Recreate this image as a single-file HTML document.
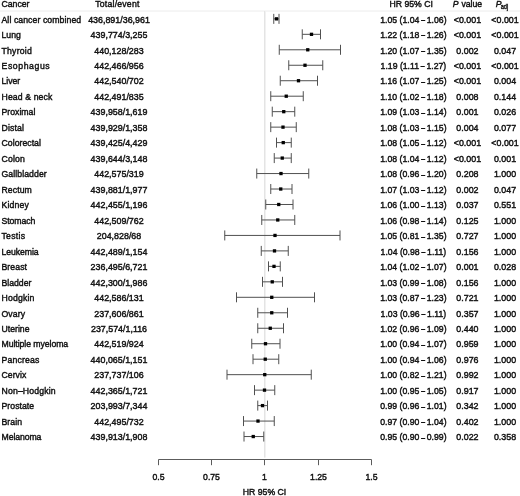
<!DOCTYPE html>
<html><head><meta charset="utf-8"><style>
html,body{margin:0;padding:0;background:#fff;}
body{width:520px;height:496px;overflow:hidden;}
svg{display:block;filter:blur(0.3px);}
text{font-family:"Liberation Sans",Arial,sans-serif;font-size:8.7px;fill:#111;stroke:#111;stroke-width:0.4px;}
.m{text-anchor:middle;}
.sub{font-size:5.7px;stroke-width:0.3px;}
</style></head><body>
<svg width="520" height="496" viewBox="0 0 520 496">
<rect width="520" height="496" fill="#fff"/>
<line x1="0" y1="11" x2="520" y2="11" stroke="#ececec" stroke-width="1"/>
<line x1="264.5" y1="11" x2="264.5" y2="457.6" stroke="#e4e4e4" stroke-width="1"/>
<line x1="265.5" y1="11" x2="265.5" y2="457.6" stroke="#f1f1f1" stroke-width="1"/>
<text transform="translate(1.50 7.40) scale(1.0 1.1)">Cancer</text>
<text transform="translate(117.30 7.40) scale(1.0 1.1)" class="m" textLength="44.2" lengthAdjust="spacing">Total/event</text>
<text transform="translate(411.20 7.40) scale(1.0 1.1)" class="m">HR 95% CI</text>
<text transform="translate(467.40 7.40) scale(1.0 1.1)" class="m"><tspan font-style="italic">P</tspan><tspan dx="0.5"> value</tspan></text>
<text transform="translate(495.80 7.40) scale(1.0 1.1)"><tspan font-style="italic">P</tspan><tspan class="sub" dx="-0.9" dy="1.4">adj</tspan></text>
<text transform="translate(1.50 22.60) scale(1.0 1.1)" textLength="79.63" lengthAdjust="spacing">All cancer combined</text>
<text transform="translate(119.00 22.60) scale(1.022 1.1)" class="m">436,891/36,961</text>
<text transform="translate(413.40 22.60) scale(1.0 1.1)" class="m">1.05 (1.04<tspan dx="1.8" dy="-0.6" font-size="6.8">–</tspan><tspan dx="1.8" dy="0.6" font-size="8.7">1.06)</tspan></text>
<text transform="translate(467.40 22.60) scale(1.022 1.1)" class="m">&lt;0.001</text>
<text transform="translate(505.00 22.60) scale(1.022 1.1)" class="m">&lt;0.001</text>
<path d="M273.75 18.85H279.00M273.75 13.85V23.85M279.00 13.85V23.85" stroke="#505050" stroke-width="1" fill="none"/>
<rect x="274.85" y="17.20" width="3.3" height="3.3" fill="#000"/>
<text transform="translate(1.50 38.07) scale(1.0 1.1)" textLength="19.43" lengthAdjust="spacing">Lung</text>
<text transform="translate(119.00 38.07) scale(1.022 1.1)" class="m">439,774/3,255</text>
<text transform="translate(413.40 38.07) scale(1.0 1.1)" class="m">1.22 (1.18<tspan dx="1.8" dy="-0.6" font-size="6.8">–</tspan><tspan dx="1.8" dy="0.6" font-size="8.7">1.26)</tspan></text>
<text transform="translate(467.40 38.07) scale(1.022 1.1)" class="m">&lt;0.001</text>
<text transform="translate(505.00 38.07) scale(1.022 1.1)" class="m">&lt;0.001</text>
<path d="M302.25 34.32H320.50M302.25 29.32V39.32M320.50 29.32V39.32" stroke="#505050" stroke-width="1" fill="none"/>
<rect x="309.85" y="32.67" width="3.3" height="3.3" fill="#000"/>
<text transform="translate(1.50 53.54) scale(1.0 1.1)" textLength="30.37" lengthAdjust="spacing">Thyroid</text>
<text transform="translate(119.00 53.54) scale(1.022 1.1)" class="m">440,128/283</text>
<text transform="translate(413.40 53.54) scale(1.0 1.1)" class="m">1.20 (1.07<tspan dx="1.8" dy="-0.6" font-size="6.8">–</tspan><tspan dx="1.8" dy="0.6" font-size="8.7">1.35)</tspan></text>
<text transform="translate(467.40 53.54) scale(1.022 1.1)" class="m">0.002</text>
<text transform="translate(505.00 53.54) scale(1.022 1.1)" class="m">0.047</text>
<path d="M279.25 49.79H340.50M279.25 44.79V54.79M340.50 44.79V54.79" stroke="#505050" stroke-width="1" fill="none"/>
<rect x="306.10" y="48.14" width="3.3" height="3.3" fill="#000"/>
<text transform="translate(1.50 69.01) scale(1.0 1.1)" textLength="48.18" lengthAdjust="spacing">Esophagus</text>
<text transform="translate(119.00 69.01) scale(1.022 1.1)" class="m">442,466/956</text>
<text transform="translate(413.40 69.01) scale(1.0 1.1)" class="m">1.19 (1.11<tspan dx="1.8" dy="-0.6" font-size="6.8">–</tspan><tspan dx="1.8" dy="0.6" font-size="8.7">1.27)</tspan></text>
<text transform="translate(467.40 69.01) scale(1.022 1.1)" class="m">&lt;0.001</text>
<text transform="translate(505.00 69.01) scale(1.022 1.1)" class="m">&lt;0.001</text>
<path d="M288.75 65.26H322.75M288.75 60.26V70.26M322.75 60.26V70.26" stroke="#505050" stroke-width="1" fill="none"/>
<rect x="303.35" y="63.61" width="3.3" height="3.3" fill="#000"/>
<text transform="translate(1.50 84.48) scale(1.0 1.1)" textLength="18.74" lengthAdjust="spacing">Liver</text>
<text transform="translate(119.00 84.48) scale(1.022 1.1)" class="m">442,540/702</text>
<text transform="translate(413.40 84.48) scale(1.0 1.1)" class="m">1.16 (1.07<tspan dx="1.8" dy="-0.6" font-size="6.8">–</tspan><tspan dx="1.8" dy="0.6" font-size="8.7">1.25)</tspan></text>
<text transform="translate(467.40 84.48) scale(1.022 1.1)" class="m">&lt;0.001</text>
<text transform="translate(505.00 84.48) scale(1.022 1.1)" class="m">0.004</text>
<path d="M280.25 80.73H317.50M280.25 75.73V85.73M317.50 75.73V85.73" stroke="#505050" stroke-width="1" fill="none"/>
<rect x="296.85" y="79.08" width="3.3" height="3.3" fill="#000"/>
<text transform="translate(1.50 99.95) scale(1.0 1.1)" textLength="50.85" lengthAdjust="spacing">Head &amp; neck</text>
<text transform="translate(119.00 99.95) scale(1.022 1.1)" class="m">442,491/835</text>
<text transform="translate(413.40 99.95) scale(1.0 1.1)" class="m">1.10 (1.02<tspan dx="1.8" dy="-0.6" font-size="6.8">–</tspan><tspan dx="1.8" dy="0.6" font-size="8.7">1.18)</tspan></text>
<text transform="translate(467.40 99.95) scale(1.022 1.1)" class="m">0.008</text>
<text transform="translate(505.00 99.95) scale(1.022 1.1)" class="m">0.144</text>
<path d="M270.75 96.20H303.25M270.75 91.20V101.20M303.25 91.20V101.20" stroke="#505050" stroke-width="1" fill="none"/>
<rect x="284.60" y="94.55" width="3.3" height="3.3" fill="#000"/>
<text transform="translate(1.50 115.42) scale(1.0 1.1)" textLength="33.90" lengthAdjust="spacing">Proximal</text>
<text transform="translate(119.00 115.42) scale(1.022 1.1)" class="m">439,958/1,619</text>
<text transform="translate(413.40 115.42) scale(1.0 1.1)" class="m">1.09 (1.03<tspan dx="1.8" dy="-0.6" font-size="6.8">–</tspan><tspan dx="1.8" dy="0.6" font-size="8.7">1.14)</tspan></text>
<text transform="translate(467.40 115.42) scale(1.022 1.1)" class="m">0.001</text>
<text transform="translate(505.00 115.42) scale(1.022 1.1)" class="m">0.026</text>
<path d="M272.25 111.67H294.75M272.25 106.67V116.67M294.75 106.67V116.67" stroke="#505050" stroke-width="1" fill="none"/>
<rect x="282.10" y="110.02" width="3.3" height="3.3" fill="#000"/>
<text transform="translate(1.50 130.89) scale(1.0 1.1)" textLength="22.53" lengthAdjust="spacing">Distal</text>
<text transform="translate(119.00 130.89) scale(1.022 1.1)" class="m">439,929/1,358</text>
<text transform="translate(413.40 130.89) scale(1.0 1.1)" class="m">1.08 (1.03<tspan dx="1.8" dy="-0.6" font-size="6.8">–</tspan><tspan dx="1.8" dy="0.6" font-size="8.7">1.15)</tspan></text>
<text transform="translate(467.40 130.89) scale(1.022 1.1)" class="m">0.004</text>
<text transform="translate(505.00 130.89) scale(1.022 1.1)" class="m">0.077</text>
<path d="M270.75 127.14H296.25M270.75 122.14V132.14M296.25 122.14V132.14" stroke="#505050" stroke-width="1" fill="none"/>
<rect x="281.35" y="125.49" width="3.3" height="3.3" fill="#000"/>
<text transform="translate(1.50 146.36) scale(1.0 1.1)" textLength="39.42" lengthAdjust="spacing">Colorectal</text>
<text transform="translate(119.00 146.36) scale(1.022 1.1)" class="m">439,425/4,429</text>
<text transform="translate(413.40 146.36) scale(1.0 1.1)" class="m">1.08 (1.05<tspan dx="1.8" dy="-0.6" font-size="6.8">–</tspan><tspan dx="1.8" dy="0.6" font-size="8.7">1.12)</tspan></text>
<text transform="translate(467.40 146.36) scale(1.022 1.1)" class="m">&lt;0.001</text>
<text transform="translate(505.00 146.36) scale(1.022 1.1)" class="m">&lt;0.001</text>
<path d="M276.50 142.61H291.25M276.50 137.61V147.61M291.25 137.61V147.61" stroke="#505050" stroke-width="1" fill="none"/>
<rect x="281.60" y="140.96" width="3.3" height="3.3" fill="#000"/>
<text transform="translate(1.50 161.83) scale(1.0 1.1)" textLength="23.30" lengthAdjust="spacing">Colon</text>
<text transform="translate(119.00 161.83) scale(1.022 1.1)" class="m">439,644/3,148</text>
<text transform="translate(413.40 161.83) scale(1.0 1.1)" class="m">1.08 (1.04<tspan dx="1.8" dy="-0.6" font-size="6.8">–</tspan><tspan dx="1.8" dy="0.6" font-size="8.7">1.12)</tspan></text>
<text transform="translate(467.40 161.83) scale(1.022 1.1)" class="m">&lt;0.001</text>
<text transform="translate(505.00 161.83) scale(1.022 1.1)" class="m">0.001</text>
<path d="M274.25 158.08H291.25M274.25 153.08V163.08M291.25 153.08V163.08" stroke="#505050" stroke-width="1" fill="none"/>
<rect x="280.60" y="156.43" width="3.3" height="3.3" fill="#000"/>
<text transform="translate(1.50 177.30) scale(1.0 1.1)" textLength="45.24" lengthAdjust="spacing">Gallbladder</text>
<text transform="translate(119.00 177.30) scale(1.022 1.1)" class="m">442,575/319</text>
<text transform="translate(413.40 177.30) scale(1.0 1.1)" class="m">1.08 (0.96<tspan dx="1.8" dy="-0.6" font-size="6.8">–</tspan><tspan dx="1.8" dy="0.6" font-size="8.7">1.20)</tspan></text>
<text transform="translate(467.40 177.30) scale(1.022 1.1)" class="m">0.208</text>
<text transform="translate(505.00 177.30) scale(1.022 1.1)" class="m">1.000</text>
<path d="M256.75 173.55H308.75M256.75 168.55V178.55M308.75 168.55V178.55" stroke="#505050" stroke-width="1" fill="none"/>
<rect x="279.35" y="171.90" width="3.3" height="3.3" fill="#000"/>
<text transform="translate(1.50 192.77) scale(1.0 1.1)" textLength="30.34" lengthAdjust="spacing">Rectum</text>
<text transform="translate(119.00 192.77) scale(1.022 1.1)" class="m">439,881/1,977</text>
<text transform="translate(413.40 192.77) scale(1.0 1.1)" class="m">1.07 (1.03<tspan dx="1.8" dy="-0.6" font-size="6.8">–</tspan><tspan dx="1.8" dy="0.6" font-size="8.7">1.12)</tspan></text>
<text transform="translate(467.40 192.77) scale(1.022 1.1)" class="m">0.002</text>
<text transform="translate(505.00 192.77) scale(1.022 1.1)" class="m">0.047</text>
<path d="M270.75 189.02H292.00M270.75 184.02V194.02M292.00 184.02V194.02" stroke="#505050" stroke-width="1" fill="none"/>
<rect x="279.10" y="187.37" width="3.3" height="3.3" fill="#000"/>
<text transform="translate(1.50 208.24) scale(1.0 1.1)" textLength="27.28" lengthAdjust="spacing">Kidney</text>
<text transform="translate(119.00 208.24) scale(1.022 1.1)" class="m">442,455/1,196</text>
<text transform="translate(413.40 208.24) scale(1.0 1.1)" class="m">1.06 (1.00<tspan dx="1.8" dy="-0.6" font-size="6.8">–</tspan><tspan dx="1.8" dy="0.6" font-size="8.7">1.13)</tspan></text>
<text transform="translate(467.40 208.24) scale(1.022 1.1)" class="m">0.037</text>
<text transform="translate(505.00 208.24) scale(1.022 1.1)" class="m">0.551</text>
<path d="M265.75 204.49H293.00M265.75 199.49V209.49M293.00 199.49V209.49" stroke="#505050" stroke-width="1" fill="none"/>
<rect x="277.10" y="202.84" width="3.3" height="3.3" fill="#000"/>
<text transform="translate(1.50 223.71) scale(1.0 1.1)" textLength="33.90" lengthAdjust="spacing">Stomach</text>
<text transform="translate(119.00 223.71) scale(1.022 1.1)" class="m">442,509/762</text>
<text transform="translate(413.40 223.71) scale(1.0 1.1)" class="m">1.06 (0.98<tspan dx="1.8" dy="-0.6" font-size="6.8">–</tspan><tspan dx="1.8" dy="0.6" font-size="8.7">1.14)</tspan></text>
<text transform="translate(467.40 223.71) scale(1.022 1.1)" class="m">0.125</text>
<text transform="translate(505.00 223.71) scale(1.022 1.1)" class="m">1.000</text>
<path d="M261.75 219.96H294.75M261.75 214.96V224.96M294.75 214.96V224.96" stroke="#505050" stroke-width="1" fill="none"/>
<rect x="276.10" y="218.31" width="3.3" height="3.3" fill="#000"/>
<text transform="translate(1.50 239.18) scale(1.0 1.1)" textLength="23.62" lengthAdjust="spacing">Testis</text>
<text transform="translate(119.00 239.18) scale(1.022 1.1)" class="m">204,828/68</text>
<text transform="translate(413.40 239.18) scale(1.0 1.1)" class="m">1.05 (0.81<tspan dx="1.8" dy="-0.6" font-size="6.8">–</tspan><tspan dx="1.8" dy="0.6" font-size="8.7">1.35)</tspan></text>
<text transform="translate(467.40 239.18) scale(1.022 1.1)" class="m">0.727</text>
<text transform="translate(505.00 239.18) scale(1.022 1.1)" class="m">1.000</text>
<path d="M224.75 235.43H340.00M224.75 230.43V240.43M340.00 230.43V240.43" stroke="#505050" stroke-width="1" fill="none"/>
<rect x="273.35" y="233.78" width="3.3" height="3.3" fill="#000"/>
<text transform="translate(1.50 254.65) scale(1.0 1.1)" textLength="37.17" lengthAdjust="spacing">Leukemia</text>
<text transform="translate(119.00 254.65) scale(1.022 1.1)" class="m">442,489/1,154</text>
<text transform="translate(413.40 254.65) scale(1.0 1.1)" class="m">1.04 (0.98<tspan dx="1.8" dy="-0.6" font-size="6.8">–</tspan><tspan dx="1.8" dy="0.6" font-size="8.7">1.11)</tspan></text>
<text transform="translate(467.40 254.65) scale(1.022 1.1)" class="m">0.156</text>
<text transform="translate(505.00 254.65) scale(1.022 1.1)" class="m">1.000</text>
<path d="M261.25 250.90H288.25M261.25 245.90V255.90M288.25 245.90V255.90" stroke="#505050" stroke-width="1" fill="none"/>
<rect x="272.85" y="249.25" width="3.3" height="3.3" fill="#000"/>
<text transform="translate(1.50 270.12) scale(1.0 1.1)" textLength="25.51" lengthAdjust="spacing">Breast</text>
<text transform="translate(119.00 270.12) scale(1.022 1.1)" class="m">236,495/6,721</text>
<text transform="translate(413.40 270.12) scale(1.0 1.1)" class="m">1.04 (1.02<tspan dx="1.8" dy="-0.6" font-size="6.8">–</tspan><tspan dx="1.8" dy="0.6" font-size="8.7">1.07)</tspan></text>
<text transform="translate(467.40 270.12) scale(1.022 1.1)" class="m">0.001</text>
<text transform="translate(505.00 270.12) scale(1.022 1.1)" class="m">0.028</text>
<path d="M268.50 266.37H280.25M268.50 261.37V271.37M280.25 261.37V271.37" stroke="#505050" stroke-width="1" fill="none"/>
<rect x="272.35" y="264.72" width="3.3" height="3.3" fill="#000"/>
<text transform="translate(1.50 285.59) scale(1.0 1.1)" textLength="29.85" lengthAdjust="spacing">Bladder</text>
<text transform="translate(119.00 285.59) scale(1.022 1.1)" class="m">442,300/1,986</text>
<text transform="translate(413.40 285.59) scale(1.0 1.1)" class="m">1.03 (0.99<tspan dx="1.8" dy="-0.6" font-size="6.8">–</tspan><tspan dx="1.8" dy="0.6" font-size="8.7">1.08)</tspan></text>
<text transform="translate(467.40 285.59) scale(1.022 1.1)" class="m">0.156</text>
<text transform="translate(505.00 285.59) scale(1.022 1.1)" class="m">1.000</text>
<path d="M262.50 281.84H282.50M262.50 276.84V286.84M282.50 276.84V286.84" stroke="#505050" stroke-width="1" fill="none"/>
<rect x="270.60" y="280.19" width="3.3" height="3.3" fill="#000"/>
<text transform="translate(1.50 301.06) scale(1.0 1.1)" textLength="32.88" lengthAdjust="spacing">Hodgkin</text>
<text transform="translate(119.00 301.06) scale(1.022 1.1)" class="m">442,586/131</text>
<text transform="translate(413.40 301.06) scale(1.0 1.1)" class="m">1.03 (0.87<tspan dx="1.8" dy="-0.6" font-size="6.8">–</tspan><tspan dx="1.8" dy="0.6" font-size="8.7">1.23)</tspan></text>
<text transform="translate(467.40 301.06) scale(1.022 1.1)" class="m">0.721</text>
<text transform="translate(505.00 301.06) scale(1.022 1.1)" class="m">1.000</text>
<path d="M236.50 297.31H314.50M236.50 292.31V302.31M314.50 292.31V302.31" stroke="#505050" stroke-width="1" fill="none"/>
<rect x="270.10" y="295.66" width="3.3" height="3.3" fill="#000"/>
<text transform="translate(1.50 316.53) scale(1.0 1.1)" textLength="23.57" lengthAdjust="spacing">Ovary</text>
<text transform="translate(119.00 316.53) scale(1.022 1.1)" class="m">237,606/861</text>
<text transform="translate(413.40 316.53) scale(1.0 1.1)" class="m">1.03 (0.96<tspan dx="1.8" dy="-0.6" font-size="6.8">–</tspan><tspan dx="1.8" dy="0.6" font-size="8.7">1.11)</tspan></text>
<text transform="translate(467.40 316.53) scale(1.022 1.1)" class="m">0.357</text>
<text transform="translate(505.00 316.53) scale(1.022 1.1)" class="m">1.000</text>
<path d="M257.75 312.78H287.50M257.75 307.78V317.78M287.50 307.78V317.78" stroke="#505050" stroke-width="1" fill="none"/>
<rect x="270.10" y="311.13" width="3.3" height="3.3" fill="#000"/>
<text transform="translate(1.50 332.00) scale(1.0 1.1)" textLength="28.02" lengthAdjust="spacing">Uterine</text>
<text transform="translate(119.00 332.00) scale(1.022 1.1)" class="m">237,574/1,116</text>
<text transform="translate(413.40 332.00) scale(1.0 1.1)" class="m">1.02 (0.96<tspan dx="1.8" dy="-0.6" font-size="6.8">–</tspan><tspan dx="1.8" dy="0.6" font-size="8.7">1.09)</tspan></text>
<text transform="translate(467.40 332.00) scale(1.022 1.1)" class="m">0.440</text>
<text transform="translate(505.00 332.00) scale(1.022 1.1)" class="m">1.000</text>
<path d="M257.75 328.25H283.50M257.75 323.25V333.25M283.50 323.25V333.25" stroke="#505050" stroke-width="1" fill="none"/>
<rect x="268.60" y="326.60" width="3.3" height="3.3" fill="#000"/>
<text transform="translate(1.50 347.47) scale(1.0 1.1)" textLength="66.69" lengthAdjust="spacing">Multiple myeloma</text>
<text transform="translate(119.00 347.47) scale(1.022 1.1)" class="m">442,519/924</text>
<text transform="translate(413.40 347.47) scale(1.0 1.1)" class="m">1.00 (0.94<tspan dx="1.8" dy="-0.6" font-size="6.8">–</tspan><tspan dx="1.8" dy="0.6" font-size="8.7">1.07)</tspan></text>
<text transform="translate(467.40 347.47) scale(1.022 1.1)" class="m">0.959</text>
<text transform="translate(505.00 347.47) scale(1.022 1.1)" class="m">1.000</text>
<path d="M251.75 343.72H280.00M251.75 338.72V348.72M280.00 338.72V348.72" stroke="#505050" stroke-width="1" fill="none"/>
<rect x="263.85" y="342.07" width="3.3" height="3.3" fill="#000"/>
<text transform="translate(1.50 362.94) scale(1.0 1.1)" textLength="37.90" lengthAdjust="spacing">Pancreas</text>
<text transform="translate(119.00 362.94) scale(1.022 1.1)" class="m">440,065/1,151</text>
<text transform="translate(413.40 362.94) scale(1.0 1.1)" class="m">1.00 (0.94<tspan dx="1.8" dy="-0.6" font-size="6.8">–</tspan><tspan dx="1.8" dy="0.6" font-size="8.7">1.06)</tspan></text>
<text transform="translate(467.40 362.94) scale(1.022 1.1)" class="m">0.976</text>
<text transform="translate(505.00 362.94) scale(1.022 1.1)" class="m">1.000</text>
<path d="M253.00 359.19H278.75M253.00 354.19V364.19M278.75 354.19V364.19" stroke="#505050" stroke-width="1" fill="none"/>
<rect x="263.60" y="357.54" width="3.3" height="3.3" fill="#000"/>
<text transform="translate(1.50 378.41) scale(1.0 1.1)" textLength="24.82" lengthAdjust="spacing">Cervix</text>
<text transform="translate(119.00 378.41) scale(1.022 1.1)" class="m">237,737/106</text>
<text transform="translate(413.40 378.41) scale(1.0 1.1)" class="m">1.00 (0.82<tspan dx="1.8" dy="-0.6" font-size="6.8">–</tspan><tspan dx="1.8" dy="0.6" font-size="8.7">1.21)</tspan></text>
<text transform="translate(467.40 378.41) scale(1.022 1.1)" class="m">0.992</text>
<text transform="translate(505.00 378.41) scale(1.022 1.1)" class="m">1.000</text>
<path d="M227.00 374.66H311.25M227.00 369.66V379.66M311.25 369.66V379.66" stroke="#505050" stroke-width="1" fill="none"/>
<rect x="263.10" y="373.01" width="3.3" height="3.3" fill="#000"/>
<text transform="translate(1.50 393.88) scale(1.0 1.1)" textLength="54.19" lengthAdjust="spacing">Non–Hodgkin</text>
<text transform="translate(119.00 393.88) scale(1.022 1.1)" class="m">442,365/1,721</text>
<text transform="translate(413.40 393.88) scale(1.0 1.1)" class="m">1.00 (0.95<tspan dx="1.8" dy="-0.6" font-size="6.8">–</tspan><tspan dx="1.8" dy="0.6" font-size="8.7">1.05)</tspan></text>
<text transform="translate(467.40 393.88) scale(1.022 1.1)" class="m">0.917</text>
<text transform="translate(505.00 393.88) scale(1.022 1.1)" class="m">1.000</text>
<path d="M254.50 390.13H274.75M254.50 385.13V395.13M274.75 385.13V395.13" stroke="#505050" stroke-width="1" fill="none"/>
<rect x="262.85" y="388.48" width="3.3" height="3.3" fill="#000"/>
<text transform="translate(1.50 409.35) scale(1.0 1.1)" textLength="32.66" lengthAdjust="spacing">Prostate</text>
<text transform="translate(119.00 409.35) scale(1.022 1.1)" class="m">203,993/7,344</text>
<text transform="translate(413.40 409.35) scale(1.0 1.1)" class="m">0.99 (0.96<tspan dx="1.8" dy="-0.6" font-size="6.8">–</tspan><tspan dx="1.8" dy="0.6" font-size="8.7">1.01)</tspan></text>
<text transform="translate(467.40 409.35) scale(1.022 1.1)" class="m">0.342</text>
<text transform="translate(505.00 409.35) scale(1.022 1.1)" class="m">1.000</text>
<path d="M257.75 405.60H267.50M257.75 400.60V410.60M267.50 400.60V410.60" stroke="#505050" stroke-width="1" fill="none"/>
<rect x="260.85" y="403.95" width="3.3" height="3.3" fill="#000"/>
<text transform="translate(1.50 424.82) scale(1.0 1.1)" textLength="20.48" lengthAdjust="spacing">Brain</text>
<text transform="translate(119.00 424.82) scale(1.022 1.1)" class="m">442,495/732</text>
<text transform="translate(413.40 424.82) scale(1.0 1.1)" class="m">0.97 (0.90<tspan dx="1.8" dy="-0.6" font-size="6.8">–</tspan><tspan dx="1.8" dy="0.6" font-size="8.7">1.04)</tspan></text>
<text transform="translate(467.40 424.82) scale(1.022 1.1)" class="m">0.402</text>
<text transform="translate(505.00 424.82) scale(1.022 1.1)" class="m">1.000</text>
<path d="M243.50 421.07H274.25M243.50 416.07V426.07M274.25 416.07V426.07" stroke="#505050" stroke-width="1" fill="none"/>
<rect x="256.35" y="419.42" width="3.3" height="3.3" fill="#000"/>
<text transform="translate(1.50 440.29) scale(1.0 1.1)" textLength="39.96" lengthAdjust="spacing">Melanoma</text>
<text transform="translate(119.00 440.29) scale(1.022 1.1)" class="m">439,913/1,908</text>
<text transform="translate(413.40 440.29) scale(1.0 1.1)" class="m">0.95 (0.90<tspan dx="1.8" dy="-0.6" font-size="6.8">–</tspan><tspan dx="1.8" dy="0.6" font-size="8.7">0.99)</tspan></text>
<text transform="translate(467.40 440.29) scale(1.022 1.1)" class="m">0.022</text>
<text transform="translate(505.00 440.29) scale(1.022 1.1)" class="m">0.358</text>
<path d="M244.00 436.54H263.75M244.00 431.54V441.54M263.75 431.54V441.54" stroke="#505050" stroke-width="1" fill="none"/>
<rect x="251.60" y="434.89" width="3.3" height="3.3" fill="#000"/>
<path d="M158.5 459.5H371.5M158.5 459.5V465.2M211.5 459.5V465.2M264.5 459.5V465.2M318.5 459.5V465.2M371.5 459.5V465.2" stroke="#5c5c5c" stroke-width="1" fill="none"/>
<text transform="translate(158.50 479.80) scale(1.0 1.1)" class="m">0.5</text>
<text transform="translate(211.50 479.80) scale(1.0 1.1)" class="m">0.75</text>
<text transform="translate(264.50 479.80) scale(1.0 1.1)" class="m">1</text>
<text transform="translate(318.50 479.80) scale(1.0 1.1)" class="m">1.25</text>
<text transform="translate(371.50 479.80) scale(1.0 1.1)" class="m">1.5</text>
<text transform="translate(264.50 495.00) scale(1.0 1.1)" class="m">HR 95% CI</text>
</svg></body></html>
